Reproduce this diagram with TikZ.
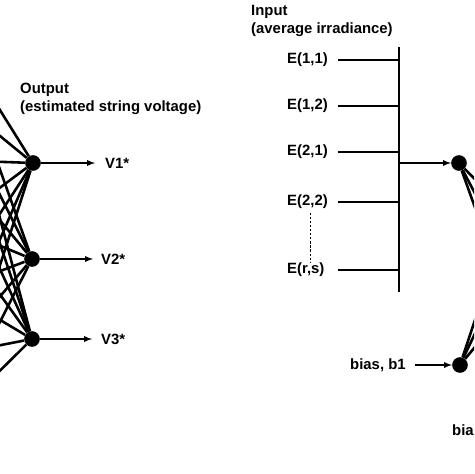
\documentclass[tikz,border=0pt]{standalone}
\usepackage{fontspec}
\setmainfont{Liberation Sans}
\begin{document}
\begin{tikzpicture}[x=0.03cm,y=-0.03cm,
    neuron/.style={circle,fill=black,inner sep=0pt,minimum size=0.47cm},
    lbl/.style={font=\fontsize{12.7}{15.5}\selectfont\bfseries,inner sep=0pt},
    fan/.style={line width=2.2pt},
    feed/.style={line width=1.3pt,-latex},
    inp/.style={line width=2.2pt}]
  \useasboundingbox (0,0) rectangle (474,474);
  \clip (0,0) rectangle (474,474);
  % output layer (left panel)
  \node[lbl,anchor=west,align=left] at (20,99) (outtitle) {Output\\(estimated string voltage)};
  \node[neuron] at (33,163) (o1) {};
  \node[neuron] at (32,259) (o2) {};
  \node[neuron] at (32,339) (o3) {};
  % hidden nodes sit left of the frame
  \foreach \i/\y in {1/30,2/95,3/160,4/225,5/290,6/355,7/420}
    \coordinate (h\i) at (-50,\y);
  \foreach \i in {1,...,7}
    \foreach \o in {o1,o2,o3}
      \draw[fan] (h\i) -- (\o);
  \coordinate (a1) at (95,163);
  \coordinate (a2) at (93,259);
  \coordinate (a3) at (92,339);
  \node[lbl,anchor=west] at (105,163) (v1) {V1*};
  \node[lbl,anchor=west] at (101,259) (v2) {V2*};
  \node[lbl,anchor=west] at (101,339) (v3) {V3*};
  \draw[feed] (o1) -- (a1);
  \draw[feed] (o2) -- (a2);
  \draw[feed] (o3) -- (a3);
  % input side (right panel)
  \node[lbl,anchor=west,align=left] at (251,21) (intitle) {Input\\(average irradiance)};
  \coordinate (bustop) at (399,47);
  \coordinate (busbot) at (399,292);
  \draw[line width=2.5pt] (bustop) -- (busbot);
  \node[lbl,anchor=west] at (287,60) (e11) {E(1,1)};
  \node[lbl,anchor=west] at (287,106) (e12) {E(1,2)};
  \node[lbl,anchor=west] at (287,152) (e21) {E(2,1)};
  \node[lbl,anchor=west] at (287,202) (e22) {E(2,2)};
  \node[lbl,anchor=west] at (287,270) (ers) {E(r,s)};
  \draw[inp,shorten <=0.3cm] (e11.east) -- (e11.east -| bustop);
  \draw[inp,shorten <=0.3cm] (e12.east) -- (e12.east -| bustop);
  \draw[inp,shorten <=0.3cm] (e21.east) -- (e21.east -| bustop);
  \draw[inp,shorten <=0.3cm] (e22.east) -- (e22.east -| bustop);
  \draw[inp,shorten <=0.4cm] (ers.east) -- (ers.east -| bustop);
  \draw[line width=0.6pt,dash pattern=on 2pt off 1.5pt] ([xshift=0.08cm,yshift=-0.1cm]e22.south) -- ([xshift=0.08cm]e22.south |- ers.north);
  \node[neuron] at (459,163) (n1) {};
  \draw[feed] (n1.west -| bustop) -- (n1);
  \node[lbl,anchor=west] at (350,365) (b1) {bias, b1};
  \node[neuron] at (460,365) (nb) {};
  \draw[feed,shorten <=0.27cm] (b1) -- (nb);
  % next layer sits right of the frame
  \foreach \i/\y in {1/215,2/260,3/305}
    \coordinate (r\i) at (510,\y);
  \foreach \i in {1,2,3} {
    \draw[fan] (n1) -- (r\i);
    \draw[fan] (nb) -- (r\i);
  }
  \node[lbl,anchor=west] at (452,430) (b2) {bia};
\end{tikzpicture}
\end{document}
